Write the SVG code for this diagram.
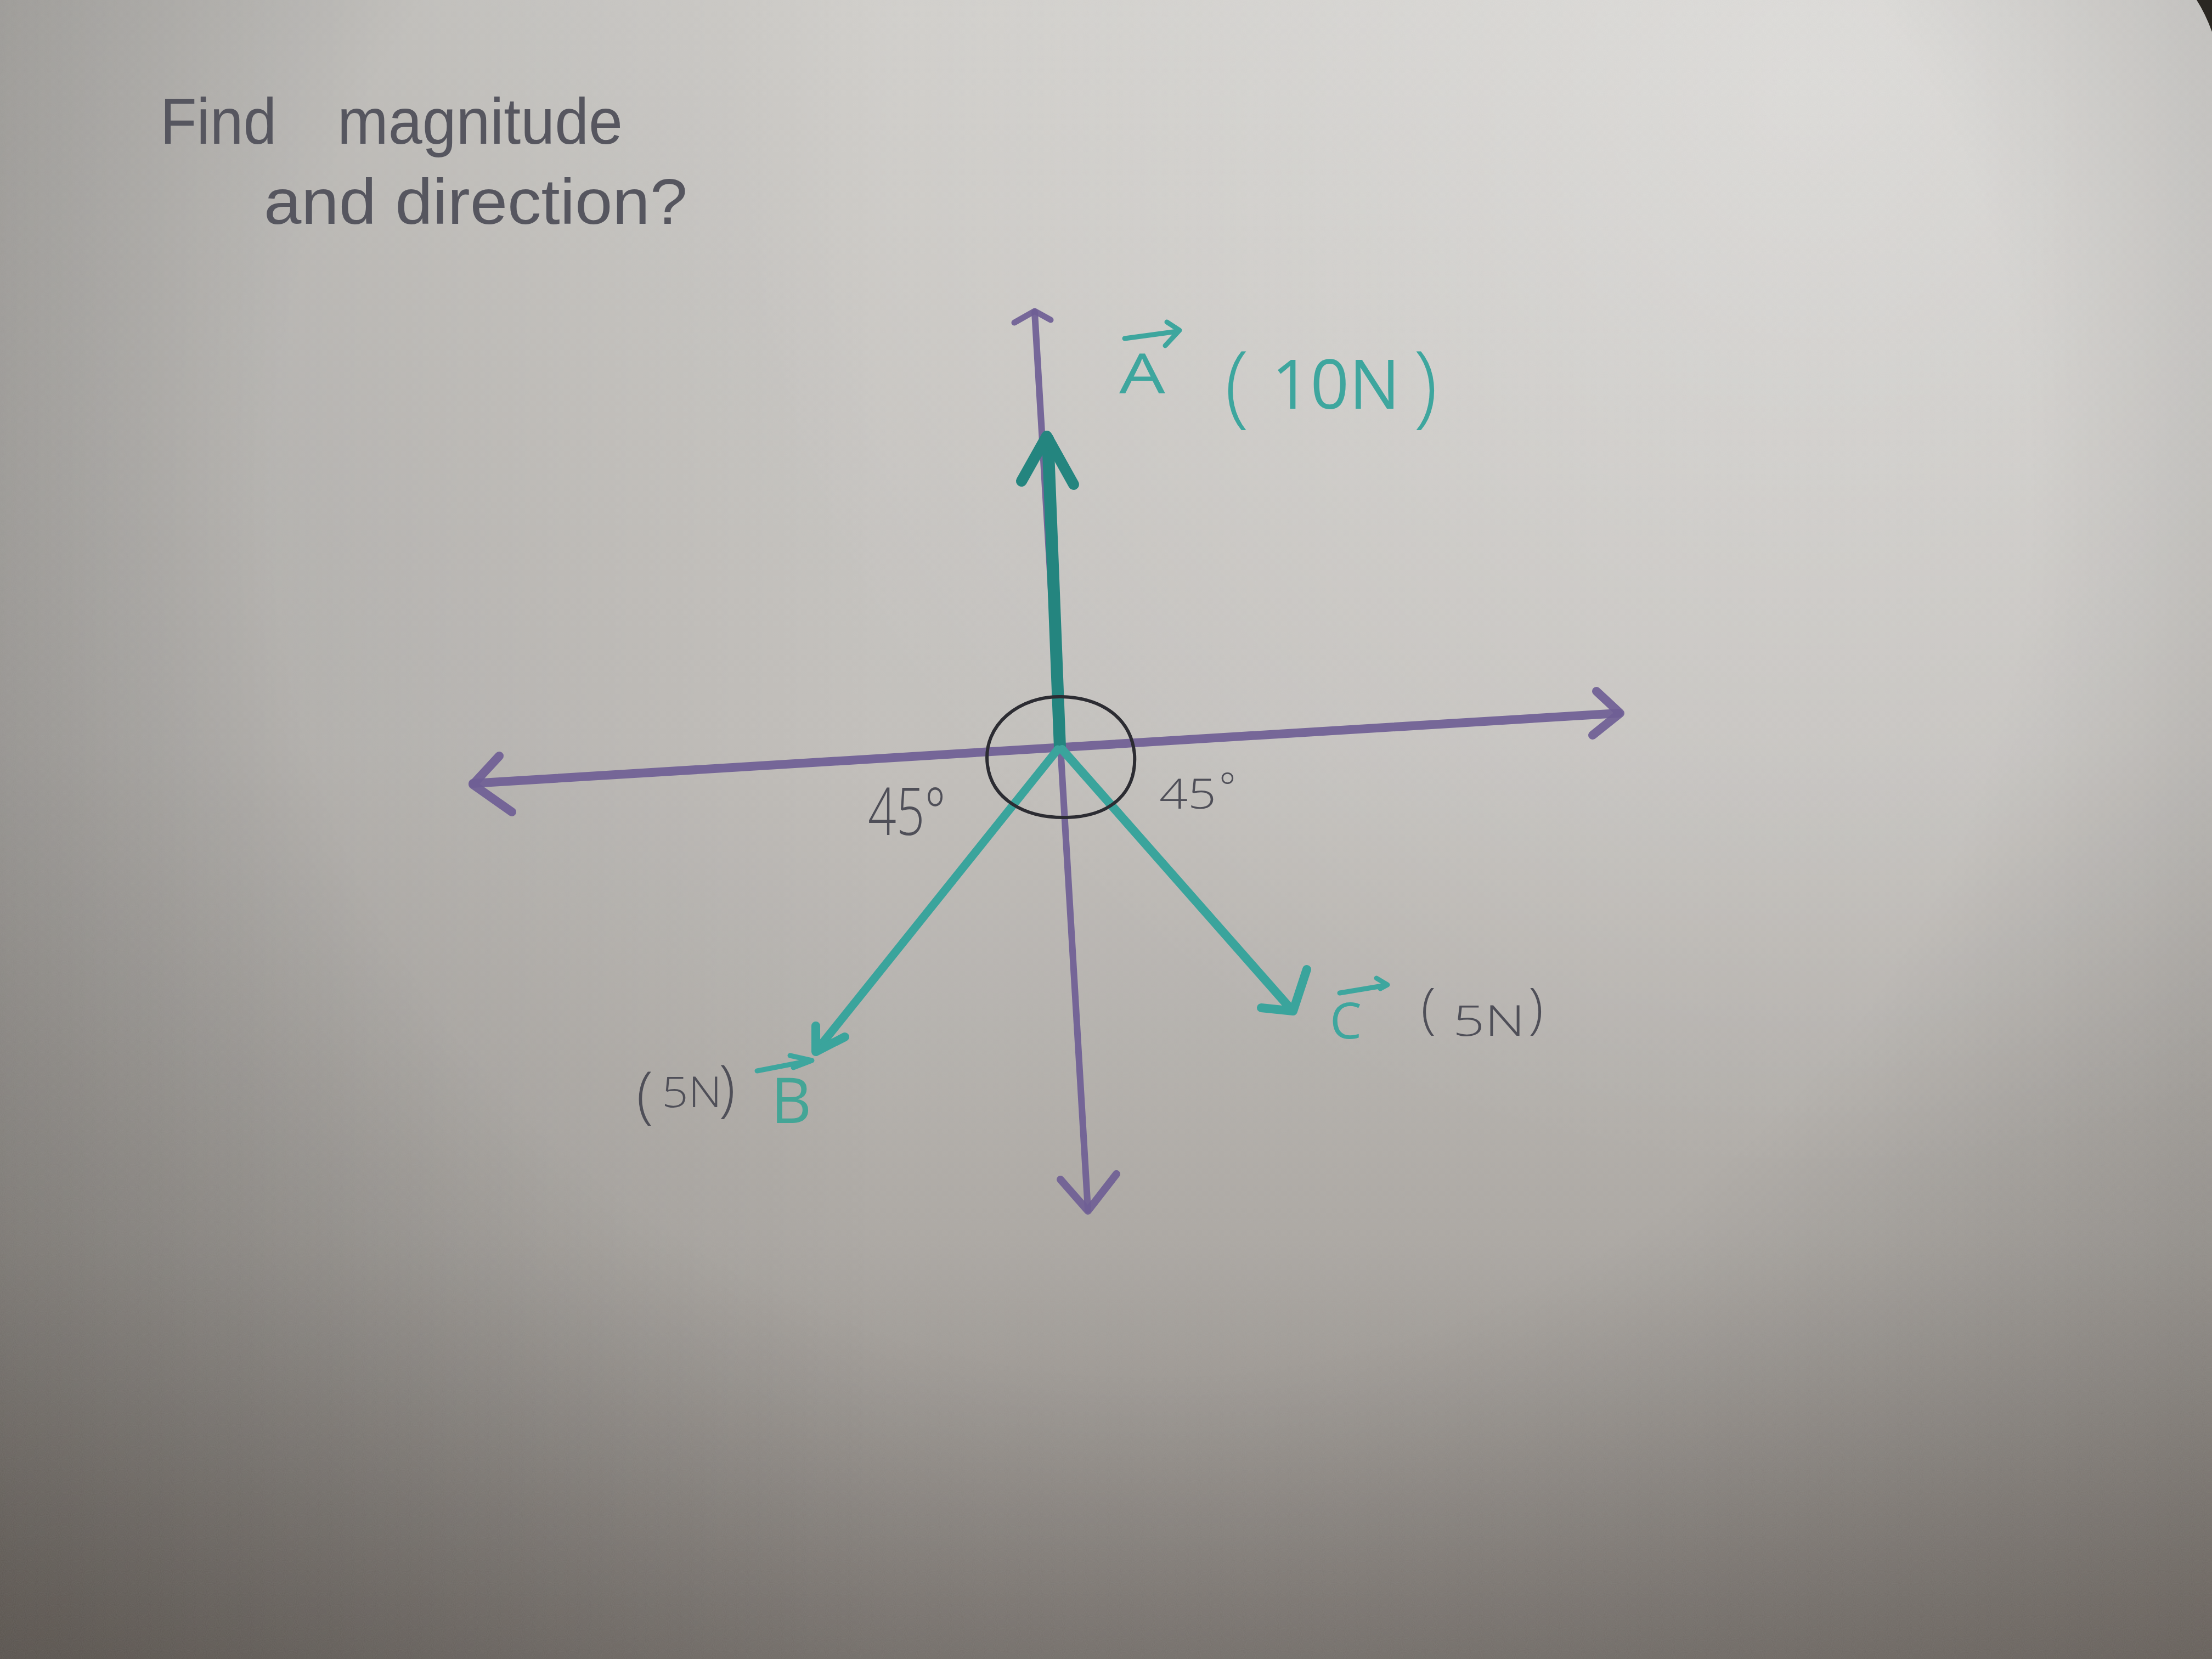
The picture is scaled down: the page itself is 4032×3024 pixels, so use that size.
<svg xmlns="http://www.w3.org/2000/svg" width="4032" height="3024" viewBox="0 0 4032 3024">
<defs>
<linearGradient id="bgV" x1="0" y1="0" x2="0" y2="1">
<stop offset="0" stop-color="#d0ceca"/>
<stop offset="0.45" stop-color="#c3c0bc"/>
<stop offset="0.75" stop-color="#aca8a3"/>
<stop offset="1" stop-color="#817b76"/>
</linearGradient>
<linearGradient id="bgL" x1="0" y1="0" x2="1" y2="0">
<stop offset="0" stop-color="#000" stop-opacity="0.13"/>
<stop offset="0.4" stop-color="#000" stop-opacity="0"/>
</linearGradient>
<radialGradient id="hi" cx="3300" cy="150" r="2000" gradientUnits="userSpaceOnUse">
<stop offset="0" stop-color="#fff" stop-opacity="0.32"/>
<stop offset="1" stop-color="#fff" stop-opacity="0"/>
</radialGradient>
<radialGradient id="vig" cx="2100" cy="900" r="2900" gradientUnits="userSpaceOnUse">
<stop offset="0.55" stop-color="#000" stop-opacity="0"/>
<stop offset="1" stop-color="#1a120a" stop-opacity="0.26"/>
</radialGradient>
<filter id="paper" x="0" y="0" width="1" height="1">
<feTurbulence type="fractalNoise" baseFrequency="0.5" numOctaves="2" seed="3"/>
<feColorMatrix type="matrix" values="0 0 0 0 0.5  0 0 0 0 0.5  0 0 0 0 0.5  0 0 0 0.12 0"/>
</filter>
<style>
.axis{fill:none;stroke:#6f5e95;stroke-linecap:round;stroke-linejoin:round;opacity:0.92}
.vec{fill:none;stroke:#3aa49c;stroke-linecap:round;stroke-linejoin:round}
.veca{fill:none;stroke:#24857f;stroke-linecap:round;stroke-linejoin:round}
.ink{fill:#4f4f58;font-family:"Open Sans","Liberation Sans",sans-serif;font-weight:300}
.title{fill:#56565f;font-family:"Liberation Sans","Open Sans",sans-serif}
.tealtxt{fill:#3ea69e;font-family:"Open Sans","Liberation Sans",sans-serif;font-weight:400}
.hat{fill:none;stroke:#3ea69e;stroke-width:9;stroke-linecap:round;stroke-linejoin:round}
</style>
</defs>

<g id="background">
<rect width="4032" height="3024" fill="url(#bgV)"/>
<rect width="4032" height="3024" fill="url(#bgL)"/>
<rect width="4032" height="3024" fill="url(#hi)"/>
<rect width="4032" height="3024" fill="url(#vig)"/>
<rect width="4032" height="3024" filter="url(#paper)"/>
<path d="M4004 0 Q4020 25 4032 58 L4032 0 Z" fill="#2a2722"/>
</g>

<g id="question">
<text class="title" font-size="118" y="262"><tspan x="292" textLength="212" lengthAdjust="spacingAndGlyphs">Find</tspan> <tspan x="615" textLength="520" lengthAdjust="spacingAndGlyphs">magnitude</tspan></text>
<text class="title" font-size="116" x="481" y="408" textLength="772" lengthAdjust="spacingAndGlyphs">and direction?</text>
</g>

<g id="connectors">
<g id="x-axis">
<path class="axis" stroke-width="16" d="M862 1428 L2950 1300"/>
<path class="axis" stroke-width="16" d="M910 1378 L862 1430 L933 1480"/>
<path class="axis" stroke-width="16" d="M2910 1260 L2953 1300 L2903 1340"/>
</g>
<g id="y-axis">
<path class="axis" stroke-width="12" d="M1886 569 L1983 2205"/>
<path class="axis" stroke-width="11" d="M1849 588 L1886 567 L1915 583"/>
<path class="axis" stroke-width="14" d="M1933 2150 L1983 2207 L2035 2140"/>
</g>
<g id="vector-a">
<path class="veca" stroke-width="22" d="M1932 1362 L1910 800"/>
<path class="veca" stroke-width="20" d="M1862 877 L1908 795 L1957 883"/>
</g>
<g id="vector-b">
<path class="vec" stroke-width="15" d="M1928 1366 L1489 1914"/>
<path class="vec" stroke-width="16" d="M1487 1870 L1487 1917 L1540 1890"/>
</g>
<g id="vector-c">
<path class="vec" stroke-width="16" d="M1936 1366 L2352 1838"/>
<path class="vec" stroke-width="16" d="M2299 1837 L2357 1843 L2382 1767"/>
</g>
</g>

<g id="origin-circle">
<path d="M1800 1395 C1790 1320 1860 1268 1935 1270 C2010 1272 2062 1310 2068 1375 C2072 1440 2030 1488 1945 1490 C1865 1492 1808 1455 1800 1395 Z" fill="none" stroke="#2c2c32" stroke-width="6"/>
</g>

<g id="label-a">
<path class="hat" d="M2050 617 L2146 604 M2127 587 L2150 602 L2124 630"/>
<text class="tealtxt" y="745"><tspan x="2040" y="717" font-size="100" textLength="84" lengthAdjust="spacingAndGlyphs">A</tspan> <tspan x="2232" y="758" font-size="165" font-weight="300">(</tspan><tspan x="2318" y="745" font-size="125" textLength="234" lengthAdjust="spacingAndGlyphs">10N</tspan><tspan x="2576" y="758" font-size="165" font-weight="300">)</tspan></text>
</g>

<g id="label-b">
<text class="ink" y="2020"><tspan x="1160" y="2034" font-size="112">(</tspan><tspan x="1206" y="2018" font-size="78" textLength="110" lengthAdjust="spacingAndGlyphs">5N</tspan><tspan x="1310" y="2022" font-size="112">)</tspan></text>
<path class="hat" d="M1380 1952 L1478 1933 M1440 1924 L1480 1933 L1446 1946"/>
<text class="tealtxt" x="1405" y="2047" font-size="115" style="fill:#44a596">B</text>
</g>

<g id="label-c">
<path class="hat" d="M2442 1810 L2526 1796 M2509 1783 L2529 1795 L2516 1802"/>
<text class="tealtxt" x="2424" y="1893" font-size="92">C</text>
<text class="ink" y="1888"><tspan x="2590" y="1872" font-size="100">(</tspan><tspan x="2648" y="1888" font-size="78" textLength="132" lengthAdjust="spacingAndGlyphs">5N</tspan><tspan x="2786" y="1872" font-size="100">)</tspan></text>
</g>

<g id="angle-left">
<text class="ink" x="1582" y="1522" font-size="120" font-weight="400" textLength="142" lengthAdjust="spacingAndGlyphs">45°</text>
</g>

<g id="angle-right">
<text class="ink" x="2113" y="1474" font-size="76"><tspan textLength="104" lengthAdjust="spacingAndGlyphs">45</tspan><tspan x="2222" y="1460" font-size="72">°</tspan></text>
</g>
</svg>
